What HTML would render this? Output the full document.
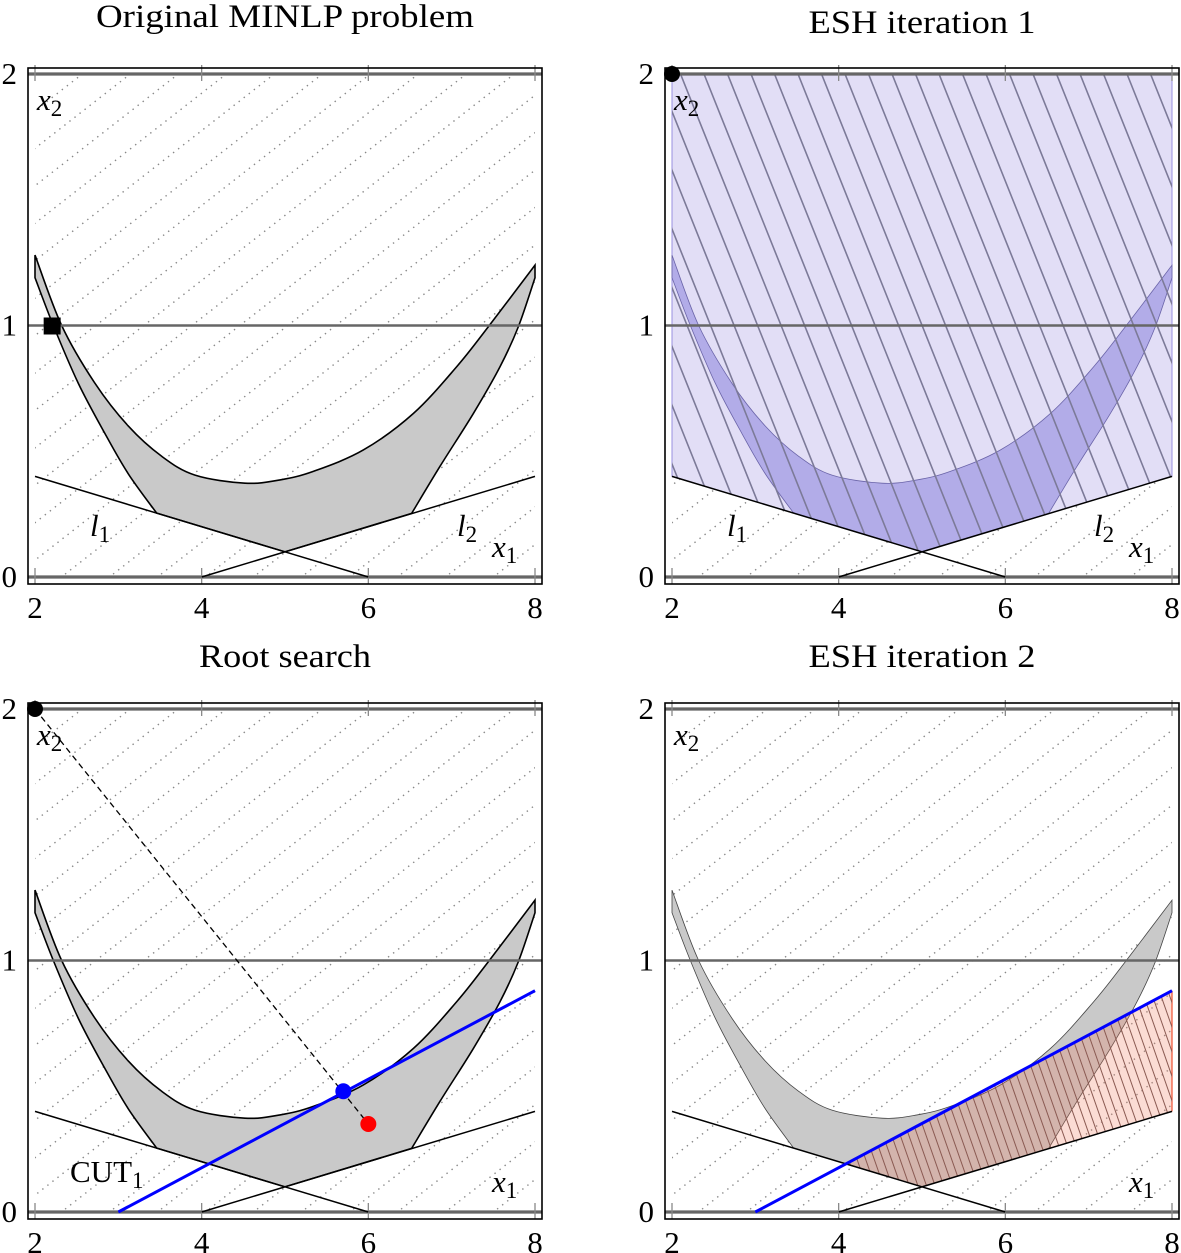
<!DOCTYPE html>
<html><head><meta charset="utf-8"><style>
html,body{margin:0;padding:0;background:#fff;}
svg{display:block;}
text{font-family:"Liberation Serif",serif;fill:#000;}
</style></head><body>
<svg id="fig" width="1181" height="1253" viewBox="0 0 1181 1253" xmlns="http://www.w3.org/2000/svg"></svg>
<script>
// ---- data ----
const xTicks=[2,4,6,8];
const yTicks=[0,1,2];
const upperX=[2,2.32,2.72,3.12,3.52,3.92,4.52,4.94,5.34,5.94,6.54,7.06,7.44,8];
const upperY=[1.28,1.0,0.77,0.60,0.48,0.405,0.373,0.386,0.42,0.505,0.65,0.836,0.995,1.24];
const rightOuterX=[8,7.8,7.58,7.26,6.86,6.52];
const rightOuterY=[1.19,0.995,0.836,0.65,0.44,0.253];
const leftOuterX=[3.46,3.12,2.84,2.52,2.22,2.0];
const leftOuterY=[0.254,0.41,0.57,0.77,1.0,1.19];
const l1X=[2,6], l1Y=[0.4,0];
const l2X=[4,8], l2Y=[0,0.4];
const kinkX=[5], kinkY=[0.1];
const cutX=[3,8], cutY=[0,0.88];
const cutL1X=[4.087], cutL1Y=[0.191];
const rootStartX=[2], rootStartY=[2];
const rootEndX=[6], rootEndY=[0.35];
const boundaryX=[5.7], boundaryY=[0.48];
const squareX=[2.2], squareY=[1];

const NS="http://www.w3.org/2000/svg";
const svg=document.getElementById('fig');
function mk(tag,attrs,parent){const e=document.createElementNS(NS,tag);for(const k in attrs)e.setAttribute(k,attrs[k]);(parent||svg).appendChild(e);return e;}
function smooth(P){ // catmull-rom -> bezier, continuing path
 let d='';
 for(let i=0;i<P.length-1;i++){
  const p0=P[Math.max(0,i-1)],p1=P[i],p2=P[i+1],p3=P[Math.min(P.length-1,i+2)];
  const c1=[p1[0]+(p2[0]-p0[0])/6,p1[1]+(p2[1]-p0[1])/6];
  const c2=[p2[0]-(p3[0]-p1[0])/6,p2[1]-(p3[1]-p1[1])/6];
  d+=` C${c1[0]},${c1[1]} ${c2[0]},${c2[1]} ${p2[0]},${p2[1]}`;
 }
 return d;
}

const panels=[
 {ox:0,oy:0,title:"Original MINLP problem",ty:27,tl:378,name:"original-problem"},
 {ox:637,oy:0,title:"ESH iteration 1",ty:33,tl:227,name:"esh-iteration-1"},
 {ox:0,oy:635,title:"Root search",ty:32,tl:172,name:"root-search"},
 {ox:637,oy:635,title:"ESH iteration 2",ty:32,tl:227,name:"esh-iteration-2"}
];

panels.forEach((p,idx)=>{
 const sx=x=>p.ox+35+(x-2)*83.333;
 const sy=y=>p.oy+577-y*251.5;
 const g=mk('g',{});
 
 
 const t=mk('text',{x:p.ox+285,y:p.oy+p.ty,'text-anchor':'middle','font-size':33,textLength:p.tl,lengthAdjust:'spacingAndGlyphs'},g);
 t.textContent=p.title;
 
 
 const cid='clip'+idx;
 const cp=mk('clipPath',{id:cid},g);
 mk('rect',{x:sx(2),y:sy(2),width:sx(8)-sx(2),height:sy(0)-sy(2)},cp);
 const dg=mk('g',{'clip-path':`url(#${cid})`},g);
 
 
 for(let x0=sx(2)-700;x0<sx(8)+20;x0+=48){
  mk('line',{x1:x0,y1:sy(0)+5,x2:x0+700,y2:sy(0)+5-700*0.78,stroke:'#888','stroke-width':1.4,'stroke-dasharray':'1.4 5'},dg);
 }
 const P=(xs,ys)=>xs.map((x,i)=>[sx(x),sy(ys[i])]);
 const up=P(upperX,upperY), ro=P(rightOuterX,rightOuterY), lo=P(leftOuterX,leftOuterY);
 let regionD='M'+up[0][0]+','+up[0][1]+smooth(up)+' L'+ro[0][0]+','+ro[0][1]+smooth(ro)
   +' L'+sx(kinkX[0])+','+sy(kinkY[0])+' L'+lo[0][0]+','+lo[0][1]+smooth(lo)+' Z';
 if(idx===1){
  const polyPts=[sx(2)+','+sy(l1Y[0]),sx(kinkX[0])+','+sy(kinkY[0]),sx(8)+','+sy(l2Y[1]),sx(8)+','+sy(2),sx(2)+','+sy(2)].join(' ');
  const bp=mk('polygon',{points:polyPts,fill:'#e2def6',stroke:'#9a90e0','stroke-width':1},g);
  
  
  const rr=mk('path',{d:regionD,fill:'#b2ace8',stroke:'#6a64a8','stroke-width':0.8},g);
  
  
  const hc=mk('clipPath',{id:'hclip1'},g);
  mk('polygon',{points:polyPts},hc);
  const hg=mk('g',{'clip-path':'url(#hclip1)'},g);
  
  
  for(let x0=sx(2)-250;x0<sx(8)+10;x0+=23.5){
   mk('line',{x1:x0,y1:sy(2),x2:x0+0.4*520,y2:sy(2)+520,stroke:'#7c7a98','stroke-width':1.6},hg);
  }
 } else {
  const rr=mk('path',{d:regionD,fill:'#c9c9c9',stroke:idx===3?'#444':'#000','stroke-width':idx===3?0.8:1.6},g);
  
  
 }
 if(idx===3){
  const polyPts=[sx(cutL1X[0])+','+sy(cutL1Y[0]),sx(8)+','+sy(cutY[1]),sx(8)+','+sy(l2Y[1]),sx(kinkX[0])+','+sy(kinkY[0])].join(' ');
  const pp=mk('polygon',{points:polyPts,fill:'rgba(240,125,95,0.27)',stroke:'none'},g);
  
  
  mk('line',{x1:sx(8),y1:sy(cutY[1]),x2:sx(8),y2:sy(l2Y[1]),stroke:'#f05030','stroke-width':1.2},g);
  const hc=mk('clipPath',{id:'hclip3'},g);
  mk('polygon',{points:polyPts},hc);
  const hg=mk('g',{'clip-path':'url(#hclip3)'},g);
  
  
  for(let x0=sx(4)-120;x0<sx(8)+10;x0+=8.6){
   mk('line',{x1:x0,y1:sy(1),x2:x0+0.35*300,y2:sy(1)+300,stroke:'#8a5a52','stroke-width':1},hg);
  }
 }
 yTicks.forEach(v=>{
  const a=mk('line',{x1:sx(2)-7,y1:sy(v),x2:sx(8)+7,y2:sy(v),stroke:'#666','stroke-width':v===1?2.6:3.2},g);
  
  
  const lb=mk('text',{x:p.ox+17,y:sy(v)+10,'text-anchor':'end','font-size':31},g);
  lb.textContent=String(v);
  
  
 });
 xTicks.forEach(v=>{
  [0,2].forEach(yv=>mk('line',{x1:sx(v),y1:sy(yv)-9,x2:sx(v),y2:sy(yv)+7,stroke:'#888','stroke-width':1.3},g));
  const lb=mk('text',{x:sx(v),y:p.oy+618,'text-anchor':'middle','font-size':31},g);
  lb.textContent=String(v);
  
  
 });
 const L1=mk('line',{x1:sx(l1X[0]),y1:sy(l1Y[0]),x2:sx(l1X[1]),y2:sy(l1Y[1]),stroke:'#000','stroke-width':1.5},g);
 
 
 const L2=mk('line',{x1:sx(l2X[0]),y1:sy(l2Y[0]),x2:sx(l2X[1]),y2:sy(l2Y[1]),stroke:'#000','stroke-width':1.5},g);
 
 
 const fr=mk('rect',{x:p.ox+28,y:p.oy+68,width:514,height:516,fill:'none',stroke:'#000','stroke-width':1.6},g);
 
 
 const x2=mk('text',{x:p.ox+37,y:p.oy+110,'font-size':31,'font-style':'italic'},g);
 x2.innerHTML='x<tspan font-size="23" font-style="normal" dy="6">2</tspan>';
 
 
 const x1=mk('text',{x:p.ox+492,y:p.oy+557,'font-size':31,'font-style':'italic'},g);
 x1.innerHTML='x<tspan font-size="23" font-style="normal" dy="6">1</tspan>';
 
 
 if(idx<2){
  const a=mk('text',{x:p.ox+90,y:p.oy+536,'font-size':31,'font-style':'italic'},g);
  a.innerHTML='l<tspan font-size="23" font-style="normal" dy="6">1</tspan>';
  
  
  const b=mk('text',{x:p.ox+457,y:p.oy+536,'font-size':31,'font-style':'italic'},g);
  b.innerHTML='l<tspan font-size="23" font-style="normal" dy="6">2</tspan>';
  
  
 }
 if(idx===0){
  const s=mk('rect',{x:sx(squareX[0])-8,y:sy(squareY[0])-8,width:17,height:17,fill:'#000'},g);
  
  
 }
 if(idx===2){
  const d=mk('line',{x1:sx(rootStartX[0]),y1:sy(rootStartY[0]),x2:sx(rootEndX[0]),y2:sy(rootEndY[0]),stroke:'#000','stroke-width':1.3,'stroke-dasharray':'6 4'},g);
  
  
 }
 if(idx>=2){
  const c=mk('line',{x1:sx(cutX[0]),y1:sy(cutY[0]),x2:sx(cutX[1]),y2:sy(cutY[1]),stroke:'#0000ff','stroke-width':3},g);
  
  
 }
 if(idx===2){
  const cl=mk('text',{x:p.ox+70,y:p.oy+547,'font-size':31},g);
  cl.innerHTML='CUT<tspan font-size="23" dy="6">1</tspan>';
  
  
  const bd=mk('circle',{cx:sx(boundaryX[0]),cy:sy(boundaryY[0]),r:8,fill:'#0000ff'},g);
  
  
  const rd=mk('circle',{cx:sx(rootEndX[0]),cy:sy(rootEndY[0]),r:8,fill:'#ff0000'},g);
  
  
 }
 if(idx===1||idx===2){
  const ip=mk('circle',{cx:sx(rootStartX[0]),cy:sy(rootStartY[0]),r:8,fill:'#000'},g);
  
  
 }
});
</script>
</body></html>
